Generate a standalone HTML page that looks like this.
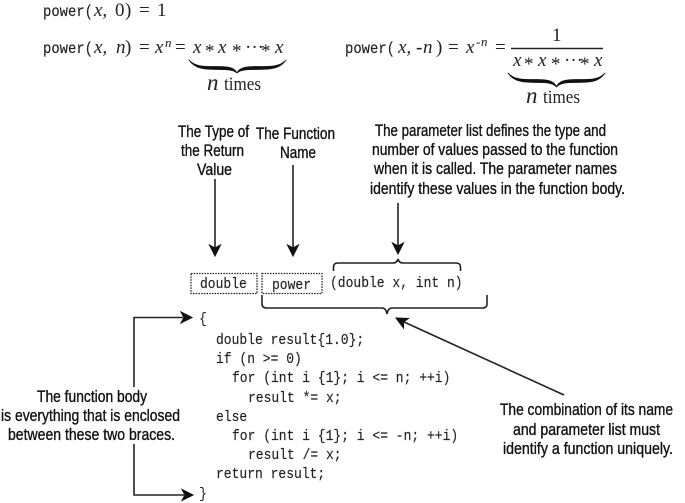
<!DOCTYPE html>
<html><head><meta charset="utf-8"><style>
html,body{margin:0;padding:0;background:#fff}
svg{display:block}
.h{font-family:"Liberation Sans",sans-serif;font-size:16.5px;fill:#111;stroke:#111;stroke-width:.35}
.m{font-family:"Liberation Mono",monospace;font-size:15px;fill:#222;stroke:#222;stroke-width:.15}
.p{font-family:"Liberation Mono",monospace;font-size:16px;fill:#222;stroke:#222;stroke-width:.15}
.s{font-family:"Liberation Serif",serif;font-size:19px;fill:#222}
.i{font-family:"Liberation Serif",serif;font-style:italic;font-size:19px;fill:#222}
.t{font-family:"Liberation Serif",serif;font-size:19px;fill:#222}
.l{fill:none;stroke:#222;stroke-width:1.6}
.b{fill:#111;stroke:#111;stroke-width:.8;stroke-linejoin:round}
.d{fill:none;stroke:#222;stroke-width:1.3;stroke-dasharray:1.5 1.2}
</style></head><body>
<svg width="685" height="503" viewBox="0 0 685 503" xmlns="http://www.w3.org/2000/svg">
<!-- equation 1 -->
<text class="p" x="43" y="16" textLength="50" lengthAdjust="spacingAndGlyphs">power(</text><text class="i" x="94" y="16">x,</text><text class="s" x="115" y="16">0</text><text class="s" x="125" y="16">)</text><text class="s" x="139" y="16">=</text><text class="s" x="157" y="16">1</text>
<!-- equation 2 -->
<text class="p" x="43" y="53" textLength="50" lengthAdjust="spacingAndGlyphs">power(</text><text class="i" x="94" y="53">x,</text><text class="i" x="116" y="53">n</text><text class="s" x="125" y="53">)</text><text class="s" x="139" y="53">=</text><text class="i" x="155" y="53">x</text><text class="i" x="165" y="47" style="font-size:13px">n</text><text class="s" x="175" y="53">=</text>
<text class="i" x="193" y="53">x</text><text class="s" x="205" y="57">*</text><text class="i" x="218" y="53">x</text><text class="s" x="232" y="57">*</text><text class="s" x="245" y="53">···</text><text class="s" x="261" y="57">*</text><text class="i" x="275" y="53">x</text>
<path class="b" d="M189 60C195 67 205 66.500 218 66.500C229 66.500 235 68 237 73C239 68 245 66.500 256 66.500C270 66.500 280 67 286 60C280 69 270 69.500 256 69.500C246 69.500 240 70 237 73C234 70 228 69.500 218 69.500C205 69.500 195 69 189 60Z"/>
<text class="i" x="207" y="90" style="font-size:23px">n</text><text class="t" x="224" y="90" textLength="37" lengthAdjust="spacingAndGlyphs">times</text>
<!-- equation 3 -->
<text class="p" x="345" y="53" textLength="50" lengthAdjust="spacingAndGlyphs">power(</text><text class="i" x="398" y="53">x,</text><text class="s" x="416" y="53" style="font-weight:bold">-</text><text class="i" x="423" y="53">n</text><text class="s" x="436" y="53">)</text><text class="s" x="448" y="53">=</text><text class="i" x="466" y="53">x</text><text class="s" x="476" y="46" style="font-size:13px">-</text><text class="i" x="481" y="46" style="font-size:13px">n</text><text class="s" x="495" y="53">=</text>
<text class="s" x="552" y="41">1</text>
<line x1="511" y1="48.5" x2="603" y2="48.5" stroke="#222" stroke-width="1.5"/>
<text class="i" x="513" y="66">x</text><text class="s" x="524" y="70">*</text><text class="i" x="538" y="66">x</text><text class="s" x="551" y="70">*</text><text class="s" x="564" y="66">···</text><text class="s" x="580" y="70">*</text><text class="i" x="594" y="66">x</text>
<path class="b" d="M508 73C514 80 524 79.500 537 79.500C548 79.500 554.500 81 556.500 87C558.500 81 565 79.500 576 79.500C590 79.500 599 80 605 73C599 82 590 82.500 576 82.500C566 82.500 560 83 556.500 87C553 83 547 82.500 537 82.500C524 82.500 514 82 508 73Z"/>
<text class="i" x="526" y="103" style="font-size:23px">n</text><text class="t" x="543" y="103" textLength="37" lengthAdjust="spacingAndGlyphs">times</text>
<!-- labels -->
<g class="h">
<text x="178" y="137" textLength="71" lengthAdjust="spacingAndGlyphs">The Type of</text>
<text x="181" y="156" textLength="63" lengthAdjust="spacingAndGlyphs">the Return</text>
<text x="197" y="175" textLength="35" lengthAdjust="spacingAndGlyphs">Value</text>
<text x="256" y="139" textLength="79" lengthAdjust="spacingAndGlyphs">The Function</text>
<text x="280" y="158" textLength="36" lengthAdjust="spacingAndGlyphs">Name</text>
<text x="375" y="136" textLength="231" lengthAdjust="spacingAndGlyphs">The parameter list defines the type and</text>
<text x="372" y="155" textLength="246" lengthAdjust="spacingAndGlyphs">number of values passed to the function</text>
<text x="374" y="174" textLength="243" lengthAdjust="spacingAndGlyphs">when it is called. The parameter names</text>
<text x="370" y="194" textLength="255" lengthAdjust="spacingAndGlyphs">identify these values in the function body.</text>
<text x="37" y="402" textLength="110" lengthAdjust="spacingAndGlyphs">The function body</text>
<text x="1" y="421" textLength="179" lengthAdjust="spacingAndGlyphs">is everything that is enclosed</text>
<text x="8" y="440" textLength="167" lengthAdjust="spacingAndGlyphs">between these two braces.</text>
<text x="500" y="415" textLength="173" lengthAdjust="spacingAndGlyphs">The combination of its name</text>
<text x="513" y="435" textLength="147" lengthAdjust="spacingAndGlyphs">and parameter list must</text>
<text x="503" y="454" textLength="170" lengthAdjust="spacingAndGlyphs">identify a function uniquely.</text>
</g>
<!-- top arrows -->
<path class="l" d="M215 179V248M293 165V248M398 203V246"/>
<path d="M209.500 245L215 256L220.500 245L215 248Z M287.500 245L293 256L298.500 245L293 248Z M392.500 243L398 254L403.500 243L398 246Z" fill="#111" stroke="#111"/>
<!-- signature -->
<rect class="d" x="191" y="273.500" width="66" height="20"/>
<rect class="d" x="262" y="273.500" width="60" height="20"/>
<text class="m" x="200" y="288" textLength="46.800" lengthAdjust="spacingAndGlyphs">double</text>
<text class="m" x="272" y="289" textLength="39" lengthAdjust="spacingAndGlyphs">power</text>
<text class="m" x="330" y="287" textLength="132.600" lengthAdjust="spacingAndGlyphs">(double x, int n)</text>
<path class="l" d="M333.500 271V267Q333.500 263 338 263H393Q397 263 398 259Q399 263 403 263H456Q460.500 263 460.500 267V271"/>
<path class="l" d="M262 295V304Q262 308 267 308H382Q386 308 387 314Q388 308 392 308H482Q487 308 487 304V295"/>
<!-- code -->
<g class="m">
<text x="199" y="323" style="stroke-width:0" textLength="8" lengthAdjust="spacingAndGlyphs">{</text>
<text x="216" y="344" textLength="148.200" lengthAdjust="spacingAndGlyphs">double result{1.0};</text>
<text x="216" y="363" textLength="85.800" lengthAdjust="spacingAndGlyphs">if (n &gt;= 0)</text>
<text x="232" y="382" textLength="218.400" lengthAdjust="spacingAndGlyphs">for (int i {1}; i &lt;= n; ++i)</text>
<text x="248" y="402" textLength="93.600" lengthAdjust="spacingAndGlyphs">result *= x;</text>
<text x="216" y="421" textLength="31.200" lengthAdjust="spacingAndGlyphs">else</text>
<text x="232" y="440" textLength="226.200" lengthAdjust="spacingAndGlyphs">for (int i {1}; i &lt;= -n; ++i)</text>
<text x="248" y="459" textLength="93.600" lengthAdjust="spacingAndGlyphs">result /= x;</text>
<text x="216" y="478" textLength="109.200" lengthAdjust="spacingAndGlyphs">return result;</text>
<text x="199" y="498" style="stroke-width:0" textLength="8" lengthAdjust="spacingAndGlyphs">}</text>
</g>
<!-- brace arrows -->
<path class="l" d="M134 387V317.500H183M134 444V495H184"/>
<path d="M181 312L192 317.500L181 323L184 317.500Z M182 489.500L193 495L182 500.500L185 495Z" fill="#111" stroke="#111"/>
<!-- diagonal arrow -->
<line class="l" x1="564" y1="395" x2="404" y2="322"/>
<path d="M396 318L408.500 318.500L403.500 322L403.500 328Z" fill="#111" stroke="#111"/>
</svg>
</body></html>
